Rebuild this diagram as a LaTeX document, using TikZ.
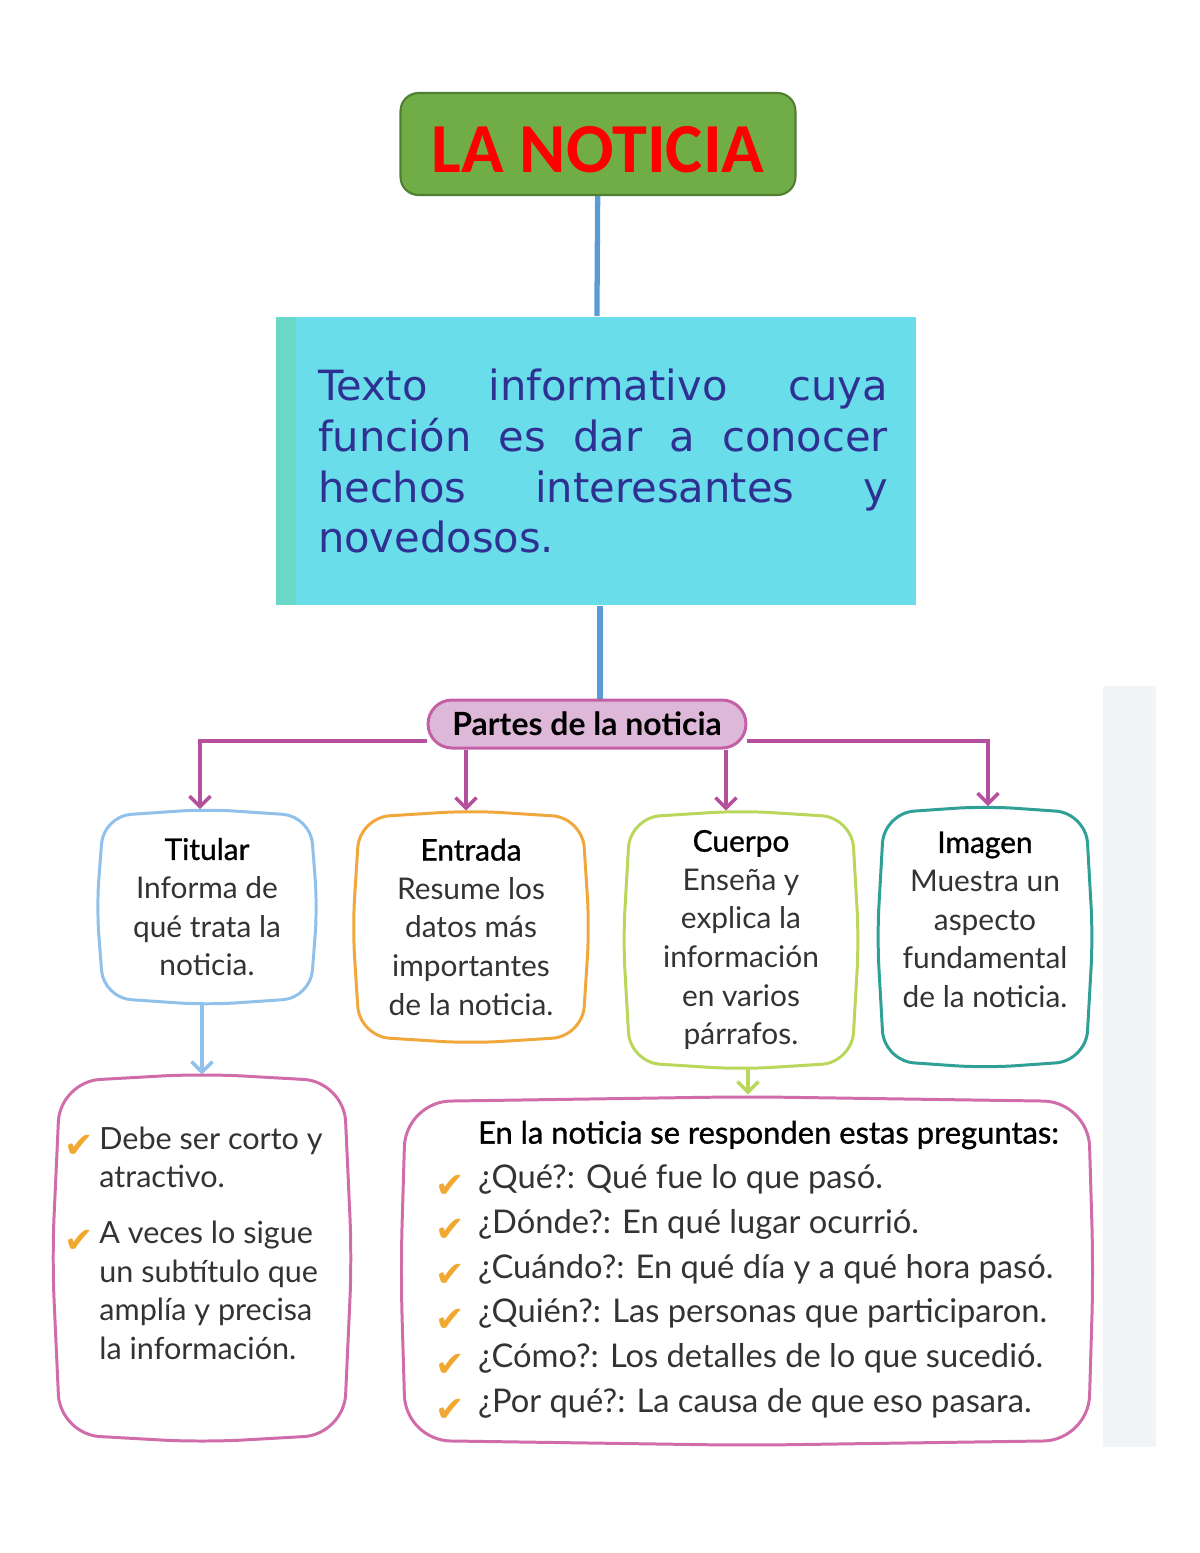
\documentclass[tikz,border=0pt]{standalone}
\usepackage{fontspec}
\setmainfont{Lato}
\newfontfamily\medfont[FakeBold=1]{Lato}
\newfontfamily\titlefont{Carlito}
\newfontfamily\descfont{DejaVu Sans}
\usetikzlibrary{arrows.meta,positioning,calc,backgrounds}

\definecolor{titlegreen}{HTML}{70AD47}
\definecolor{titleedge}{HTML}{507E32}
\definecolor{lineblue}{HTML}{5B9BD5}
\definecolor{descfill}{HTML}{6ADDEB}
\definecolor{descstripe}{HTML}{6AD8C6}
\definecolor{desctext}{HTML}{2E3192}
\definecolor{pillfill}{HTML}{DDB8D8}
\definecolor{pilledge}{HTML}{C461A6}
\definecolor{plum}{HTML}{B5519C}
\definecolor{skyedge}{HTML}{8FC1EB}
\definecolor{orangeedge}{HTML}{F0A83C}
\definecolor{limeedge}{HTML}{BAD65B}
\definecolor{tealedge}{HTML}{2F9F97}
\definecolor{pinkedge}{HTML}{D06CAA}
\definecolor{tickorange}{HTML}{F0A830}
\definecolor{bodygray}{HTML}{333333}
\definecolor{scanstrip}{HTML}{F3F4F6}

% check mark in a box of given width
\newcommand\chk[1]{\makebox[#1][l]{\raisebox{-5pt}{\descfont\fontsize{20}{20}\selectfont\color{tickorange}✔}}}
\newcommand\hd[1]{{\medfont\color{black}#1}}

% rounded box with slightly bulging sides: node, colour, corner radius, bulge
\newcommand\bubble[4]{%
  \draw[draw=#2, line width=1.7pt, fill=white, rounded corners=#3]
    ([shift={(0,-#4)}]#1.north) -- (#1.north east) -- ([shift={(#4,0)}]#1.east)
    -- (#1.south east) -- ([shift={(0,#4)}]#1.south) -- (#1.south west)
    -- ([shift={(-#4,0)}]#1.west) -- (#1.north west) -- cycle;}

\begin{document}
\begin{tikzpicture}[x=0.02cm, y=-0.02cm,
  titlebox/.style={rectangle, rounded corners=0.36cm, fill=titlegreen, draw=titleedge,
    line width=1.2pt, minimum width=7.9cm, minimum height=2.04cm, text=red,
    text height=1.15cm, text depth=0cm, font=\titlefont\bfseries\fontsize{40}{40}\selectfont},
  descbox/.style={rectangle, fill=descfill, minimum width=12.8cm, minimum height=5.78cm,
    text width=11.68cm, align=justify, text=desctext,
    font=\descfont\fontsize{23.7}{29}\selectfont,
    path picture={\fill[descstripe] (path picture bounding box.south west)
      rectangle ([xshift=0.4cm]path picture bounding box.north west);}},
  pill/.style={rectangle, rounded corners=0.48cm, fill=pillfill, draw=pilledge,
    line width=1.7pt, minimum width=6.36cm, minimum height=0.96cm, inner sep=0pt,
    font=\bfseries\fontsize{18.2}{20}\selectfont},
  part/.style={rectangle, align=center, inner sep=0pt, text=bodygray,
    font=\fontsize{17}{22}\selectfont},
  note/.style={rectangle, align=left, inner sep=0pt, text=bodygray},
  parr/.style={plum, line width=2pt, shorten >=0.14cm, -{Straight Barb[length=6pt, width=12pt]}},
  bline/.style={lineblue, line width=3pt},
]
\useasboundingbox (0,0) rectangle (1200,1553);

% faint strip from the scan
\fill[scanstrip] (1103,686) rectangle (1156,1447);

% title and definition
\node[titlebox] (titulo) at (598,144) {LA NOTICIA};
\node[descbox] (texto) at (596,461) {\leftskip=0.28cm Texto informativo cuya\linebreak
  función es dar a conocer\linebreak hechos interesantes y\linebreak novedosos.\par};

\node[pill] (partes) at (587,724) {Partes de la noticia};

% the four parts
\node[part, minimum width=4.12cm, minimum height=3.62cm] (titular) at (207,907)
  {\hd{Titular}\\Informa de\\qué trata la\\noticia.};
\node[part, minimum width=4.44cm, minimum height=4.36cm] (entrada) at (471,927)
  {\hd{Entrada}\\Resume los\\datos más\\importantes\\de la noticia.};
\node[part, minimum width=4.42cm, minimum height=4.88cm] (cuerpo) at (741,940)
  {\hd{Cuerpo}\\Enseña y\\explica la\\información\\en varios\\párrafos.};
\node[part, minimum width=4.02cm, minimum height=4.94cm, text depth=0.7cm] (imagen) at (985,937)
  {\hd{Imagen}\\Muestra un\\aspecto\\fundamental\\de la noticia.};

% notes
\node[note, minimum width=5.66cm, minimum height=7.04cm, text depth=0.6cm,
  font=\fontsize{17.4}{22}\selectfont] (debe) at (202,1258)
  {\chk{0.7cm}Debe ser corto y\hspace*{0.34cm}\\\hspace*{0.7cm}atractivo.\\[0.34cm]
   \chk{0.7cm}A veces lo sigue\\\hspace*{0.7cm}un subtítulo que\\
   \hspace*{0.7cm}amplía y precisa\\\hspace*{0.7cm}la información.};
\node[note, minimum width=13.64cm, minimum height=6.76cm,
  font=\fontsize{18.6}{25.5}\selectfont] (preg) at (747,1271)
  {\hspace*{0.86cm}\hd{\fontsize{17.6}{25.5}\selectfont En la noticia se responden estas preguntas:}\\
   \chk{0.86cm}¿Qué?: Qué fue lo que pasó.\\
   \chk{0.86cm}¿Dónde?: En qué lugar ocurrió.\\
   \chk{0.86cm}¿Cuándo?: En qué día y a qué hora pasó.\\
   \chk{0.86cm}¿Quién?: Las personas que participaron.\\
   \chk{0.86cm}¿Cómo?: Los detalles de lo que sucedió.\\
   \chk{0.86cm}¿Por qué?: La causa de que eso pasara.};

\begin{scope}[on background layer]
% connectors
\draw[bline] (titulo) -- (texto);
\draw[bline] (texto.south -| 600,0) -- (partes.north -| 600,0);
\draw[parr] (partes.west |- 0,741) -| (200,0 |- titular.north);
\draw[parr] (partes.south -| 466,0) -- (466,0 |- entrada.north);
\draw[parr] (partes.south -| 726,0) -- (726,0 |- cuerpo.north);
\draw[parr] (partes.east |- 0,741) -| (988,0 |- imagen.north);
\draw[parr, skyedge] (202,0 |- titular.south) -- (202,0 |- debe.north);
\draw[parr, limeedge] (748,0 |- cuerpo.south) -- (748,0 |- preg.north);
% box outlines
\bubble{titular}{skyedge}{0.55cm}{7}
\bubble{entrada}{orangeedge}{0.6cm}{7}
\bubble{cuerpo}{limeedge}{0.6cm}{7}
\bubble{imagen}{tealedge}{0.6cm}{7}
\bubble{debe}{pinkedge}{0.8cm}{8}
\bubble{preg}{pinkedge}{0.9cm}{5}
\end{scope}
\end{tikzpicture}
\end{document}
